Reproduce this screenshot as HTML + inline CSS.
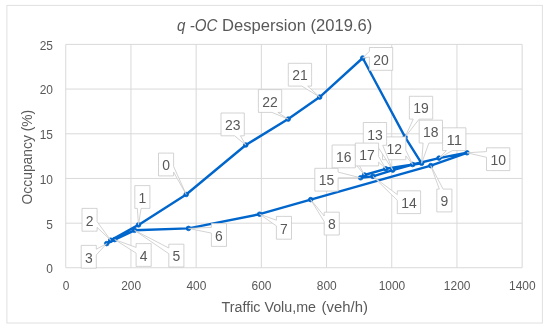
<!DOCTYPE html>
<html><head><meta charset="utf-8"><title>q -OC Despersion (2019.6)</title>
<style>
html,body{margin:0;padding:0;background:#fff;}
body{width:550px;height:330px;overflow:hidden;}
svg{display:block;}
text{font-family:"Liberation Sans",Arial,sans-serif;fill:#595959;}
</style></head><body>
<svg width="550" height="330" viewBox="0 0 550 330">
<rect x="0" y="0" width="550" height="330" fill="#fff"/>

<rect x="6.9" y="5.4" width="535.5" height="317.6" fill="none" stroke="#e0e0e0" stroke-width="1"/>
<path d="M65.75,44.40 H522.15 M65.75,89.05 H522.15 M65.75,133.80 H522.15 M65.75,178.45 H522.15 M65.75,223.20 H522.15 M65.75,267.75 H522.15 M65.75,44.40 V267.75 M130.95,44.40 V267.75 M196.15,44.40 V267.75 M261.35,44.40 V267.75 M326.55,44.40 V267.75 M391.75,44.40 V267.75 M456.95,44.40 V267.75 M522.15,44.40 V267.75" stroke="#d9d9d9" stroke-width="1" fill="none"/>
<text x="177.0" y="30.9" font-size="16.2" font-style="italic" textLength="40.4" lengthAdjust="spacingAndGlyphs">q -OC</text>
<text x="222.0" y="30.9" font-size="16.2" textLength="150.2" lengthAdjust="spacingAndGlyphs">Despersion (2019.6)</text>
<text x="53.0" y="49.80" text-anchor="end" font-size="12.7" textLength="13.30" lengthAdjust="spacingAndGlyphs">25</text>
<text x="53.0" y="94.45" text-anchor="end" font-size="12.7" textLength="13.30" lengthAdjust="spacingAndGlyphs">20</text>
<text x="53.0" y="139.20" text-anchor="end" font-size="12.7" textLength="13.30" lengthAdjust="spacingAndGlyphs">15</text>
<text x="53.0" y="183.85" text-anchor="end" font-size="12.7" textLength="13.30" lengthAdjust="spacingAndGlyphs">10</text>
<text x="53.0" y="228.60" text-anchor="end" font-size="12.7" textLength="6.65" lengthAdjust="spacingAndGlyphs">5</text>
<text x="53.0" y="273.15" text-anchor="end" font-size="12.7" textLength="6.65" lengthAdjust="spacingAndGlyphs">0</text>
<text x="65.95" y="290.2" text-anchor="middle" font-size="12.7" textLength="6.65" lengthAdjust="spacingAndGlyphs">0</text>
<text x="131.15" y="290.2" text-anchor="middle" font-size="12.7" textLength="19.95" lengthAdjust="spacingAndGlyphs">200</text>
<text x="196.35" y="290.2" text-anchor="middle" font-size="12.7" textLength="19.95" lengthAdjust="spacingAndGlyphs">400</text>
<text x="261.55" y="290.2" text-anchor="middle" font-size="12.7" textLength="19.95" lengthAdjust="spacingAndGlyphs">600</text>
<text x="326.75" y="290.2" text-anchor="middle" font-size="12.7" textLength="19.95" lengthAdjust="spacingAndGlyphs">800</text>
<text x="391.95" y="290.2" text-anchor="middle" font-size="12.7" textLength="26.60" lengthAdjust="spacingAndGlyphs">1000</text>
<text x="457.15" y="290.2" text-anchor="middle" font-size="12.7" textLength="26.60" lengthAdjust="spacingAndGlyphs">1200</text>
<text x="522.35" y="290.2" text-anchor="middle" font-size="12.7" textLength="26.60" lengthAdjust="spacingAndGlyphs">1400</text>
<text x="221.6" y="312.2" font-size="14" textLength="94.4" lengthAdjust="spacingAndGlyphs">Traffic Volu,me</text>
<text x="321.6" y="312.2" font-size="14" textLength="46.3" lengthAdjust="spacingAndGlyphs">(veh/h)</text>
<text transform="translate(32.3,157.1) rotate(-90)" x="0" y="0" text-anchor="middle" font-size="14" textLength="94.6" lengthAdjust="spacingAndGlyphs">Occupancy (%)</text>
<path d="M186.20,194.50 L138.50,224.90 L110.70,240.20 L106.70,243.60 L114.70,239.60 L134.50,230.30 L188.50,228.40 L259.60,214.20 L310.70,199.60 L430.80,165.60 L467.00,152.80 L439.00,158.10 L412.70,164.50 L392.80,170.10 L372.90,176.40 L360.60,177.80 L364.50,175.00 L385.80,168.80 L421.60,163.30 L405.10,137.10 L362.70,58.00 L319.70,97.10 L288.20,119.10 L245.80,145.00 L186.20,194.50" fill="none" stroke="#0066cc" stroke-width="2.4" stroke-linejoin="round" stroke-linecap="round"/>
<circle cx="186.20" cy="194.50" r="2.3" fill="#0066cc" stroke="#0066cc" stroke-width="0.8"/>
<circle cx="138.50" cy="224.90" r="2.3" fill="#0066cc" stroke="#0066cc" stroke-width="0.8"/>
<circle cx="110.70" cy="240.20" r="2.3" fill="#0066cc" stroke="#0066cc" stroke-width="0.8"/>
<circle cx="106.70" cy="243.60" r="2.3" fill="#0066cc" stroke="#0066cc" stroke-width="0.8"/>
<circle cx="114.70" cy="239.60" r="2.3" fill="#0066cc" stroke="#0066cc" stroke-width="0.8"/>
<circle cx="134.50" cy="230.30" r="2.3" fill="#0066cc" stroke="#0066cc" stroke-width="0.8"/>
<circle cx="188.50" cy="228.40" r="2.3" fill="#0066cc" stroke="#0066cc" stroke-width="0.8"/>
<circle cx="259.60" cy="214.20" r="2.3" fill="#0066cc" stroke="#0066cc" stroke-width="0.8"/>
<circle cx="310.70" cy="199.60" r="2.3" fill="#0066cc" stroke="#0066cc" stroke-width="0.8"/>
<circle cx="430.80" cy="165.60" r="2.3" fill="#0066cc" stroke="#0066cc" stroke-width="0.8"/>
<circle cx="467.00" cy="152.80" r="2.3" fill="#0066cc" stroke="#0066cc" stroke-width="0.8"/>
<circle cx="439.00" cy="158.10" r="2.3" fill="#0066cc" stroke="#0066cc" stroke-width="0.8"/>
<circle cx="412.70" cy="164.50" r="2.3" fill="#0066cc" stroke="#0066cc" stroke-width="0.8"/>
<circle cx="392.80" cy="170.10" r="2.3" fill="#0066cc" stroke="#0066cc" stroke-width="0.8"/>
<circle cx="372.90" cy="176.40" r="2.3" fill="#0066cc" stroke="#0066cc" stroke-width="0.8"/>
<circle cx="360.60" cy="177.80" r="2.3" fill="#0066cc" stroke="#0066cc" stroke-width="0.8"/>
<circle cx="364.50" cy="175.00" r="2.3" fill="#0066cc" stroke="#0066cc" stroke-width="0.8"/>
<circle cx="385.80" cy="168.80" r="2.3" fill="#0066cc" stroke="#0066cc" stroke-width="0.8"/>
<circle cx="421.60" cy="163.30" r="2.3" fill="#0066cc" stroke="#0066cc" stroke-width="0.8"/>
<circle cx="405.10" cy="137.10" r="2.3" fill="#0066cc" stroke="#0066cc" stroke-width="0.8"/>
<circle cx="362.70" cy="58.00" r="2.3" fill="#0066cc" stroke="#0066cc" stroke-width="0.8"/>
<circle cx="319.70" cy="97.10" r="2.3" fill="#0066cc" stroke="#0066cc" stroke-width="0.8"/>
<circle cx="288.20" cy="119.10" r="2.3" fill="#0066cc" stroke="#0066cc" stroke-width="0.8"/>
<circle cx="245.80" cy="145.00" r="2.3" fill="#0066cc" stroke="#0066cc" stroke-width="0.8"/>
<path d="M158.50,153.10 L167.31,153.10 L167.31,153.10 L171.08,153.10 L173.60,153.10 L173.60,166.40 L186.20,194.50 L173.60,172.10 L173.60,175.90 L171.08,175.90 L167.31,175.90 L167.31,175.90 L158.50,175.90 L158.50,172.10 L158.50,166.40 L158.50,166.40 Z" fill="#fff" stroke="#c8c8c8" stroke-width="0.8"/>
<text x="166.05" y="170.20" text-anchor="middle" font-size="14.6" textLength="7.75" lengthAdjust="spacingAndGlyphs">0</text>
<path d="M134.80,185.60 L137.32,185.60 L137.32,185.60 L141.09,185.60 L149.90,185.60 L149.90,198.90 L149.90,198.90 L149.90,204.60 L149.90,208.40 L141.09,208.40 L138.50,224.90 L137.32,208.40 L134.80,208.40 L134.80,204.60 L134.80,198.90 L134.80,198.90 Z" fill="#fff" stroke="#c8c8c8" stroke-width="0.8"/>
<text x="142.35" y="202.70" text-anchor="middle" font-size="14.6" textLength="7.75" lengthAdjust="spacingAndGlyphs">1</text>
<path d="M82.00,208.40 L90.81,208.40 L90.81,208.40 L94.58,208.40 L97.10,208.40 L97.10,221.70 L110.70,240.20 L97.10,227.40 L97.10,231.20 L94.58,231.20 L90.81,231.20 L90.81,231.20 L82.00,231.20 L82.00,227.40 L82.00,221.70 L82.00,221.70 Z" fill="#fff" stroke="#c8c8c8" stroke-width="0.8"/>
<text x="89.55" y="225.50" text-anchor="middle" font-size="14.6" textLength="7.75" lengthAdjust="spacingAndGlyphs">2</text>
<path d="M81.20,245.40 L90.01,245.40 L90.01,245.40 L93.78,245.40 L96.30,245.40 L96.30,249.20 L106.70,243.60 L96.30,254.90 L96.30,268.20 L93.78,268.20 L90.01,268.20 L90.01,268.20 L81.20,268.20 L81.20,254.90 L81.20,249.20 L81.20,249.20 Z" fill="#fff" stroke="#c8c8c8" stroke-width="0.8"/>
<text x="88.75" y="262.50" text-anchor="middle" font-size="14.6" textLength="7.75" lengthAdjust="spacingAndGlyphs">3</text>
<path d="M136.10,243.60 L138.62,243.60 L138.62,243.60 L142.39,243.60 L151.20,243.60 L151.20,247.40 L151.20,247.40 L151.20,253.10 L151.20,266.40 L142.39,266.40 L138.62,266.40 L138.62,266.40 L136.10,266.40 L136.10,253.10 L114.70,239.60 L136.10,247.40 Z" fill="#fff" stroke="#c8c8c8" stroke-width="0.8"/>
<text x="143.65" y="260.70" text-anchor="middle" font-size="14.6" textLength="7.75" lengthAdjust="spacingAndGlyphs">4</text>
<path d="M168.80,244.20 L171.32,244.20 L171.32,244.20 L175.09,244.20 L183.90,244.20 L183.90,248.00 L183.90,248.00 L183.90,253.70 L183.90,267.00 L175.09,267.00 L171.32,267.00 L171.32,267.00 L168.80,267.00 L168.80,253.70 L134.50,230.30 L168.80,248.00 Z" fill="#fff" stroke="#c8c8c8" stroke-width="0.8"/>
<text x="176.35" y="261.30" text-anchor="middle" font-size="14.6" textLength="7.75" lengthAdjust="spacingAndGlyphs">5</text>
<path d="M211.40,223.60 L213.92,223.60 L213.92,223.60 L217.69,223.60 L226.50,223.60 L226.50,227.40 L226.50,227.40 L226.50,233.10 L226.50,246.40 L217.69,246.40 L213.92,246.40 L213.92,246.40 L211.40,246.40 L211.40,233.10 L188.50,228.40 L211.40,227.40 Z" fill="#fff" stroke="#c8c8c8" stroke-width="0.8"/>
<text x="218.95" y="240.70" text-anchor="middle" font-size="14.6" textLength="7.75" lengthAdjust="spacingAndGlyphs">6</text>
<path d="M276.40,216.40 L278.92,216.40 L278.92,216.40 L282.69,216.40 L291.50,216.40 L291.50,220.20 L291.50,220.20 L291.50,225.90 L291.50,239.20 L282.69,239.20 L278.92,239.20 L278.92,239.20 L276.40,239.20 L276.40,225.90 L259.60,214.20 L276.40,220.20 Z" fill="#fff" stroke="#c8c8c8" stroke-width="0.8"/>
<text x="283.95" y="233.50" text-anchor="middle" font-size="14.6" textLength="7.75" lengthAdjust="spacingAndGlyphs">7</text>
<path d="M324.20,212.20 L326.72,212.20 L326.72,212.20 L330.49,212.20 L339.30,212.20 L339.30,216.00 L339.30,216.00 L339.30,221.70 L339.30,235.00 L330.49,235.00 L326.72,235.00 L326.72,235.00 L324.20,235.00 L324.20,221.70 L310.70,199.60 L324.20,216.00 Z" fill="#fff" stroke="#c8c8c8" stroke-width="0.8"/>
<text x="331.75" y="229.30" text-anchor="middle" font-size="14.6" textLength="7.75" lengthAdjust="spacingAndGlyphs">8</text>
<path d="M436.80,189.10 L439.32,189.10 L430.80,165.60 L443.09,189.10 L451.90,189.10 L451.90,192.90 L451.90,192.90 L451.90,198.60 L451.90,211.90 L443.09,211.90 L439.32,211.90 L439.32,211.90 L436.80,211.90 L436.80,198.60 L436.80,192.90 L436.80,192.90 Z" fill="#fff" stroke="#c8c8c8" stroke-width="0.8"/>
<text x="444.35" y="206.20" text-anchor="middle" font-size="14.6" textLength="7.75" lengthAdjust="spacingAndGlyphs">9</text>
<path d="M486.50,147.80 L490.38,147.80 L490.38,147.80 L496.21,147.80 L509.80,147.80 L509.80,151.60 L509.80,151.60 L509.80,157.30 L509.80,170.60 L496.21,170.60 L490.38,170.60 L490.38,170.60 L486.50,170.60 L486.50,157.30 L467.00,152.80 L486.50,151.60 Z" fill="#fff" stroke="#c8c8c8" stroke-width="0.8"/>
<text x="498.15" y="164.90" text-anchor="middle" font-size="14.6" textLength="15.50" lengthAdjust="spacingAndGlyphs">10</text>
<path d="M442.60,127.80 L446.48,127.80 L446.48,127.80 L452.31,127.80 L465.90,127.80 L465.90,141.10 L465.90,141.10 L465.90,146.80 L465.90,150.60 L452.31,150.60 L439.00,158.10 L446.48,150.60 L442.60,150.60 L442.60,146.80 L442.60,141.10 L442.60,141.10 Z" fill="#fff" stroke="#c8c8c8" stroke-width="0.8"/>
<text x="454.25" y="144.90" text-anchor="middle" font-size="14.6" textLength="15.50" lengthAdjust="spacingAndGlyphs">11</text>
<path d="M382.50,136.90 L396.09,136.90 L396.09,136.90 L401.92,136.90 L405.80,136.90 L405.80,150.20 L412.70,164.50 L405.80,155.90 L405.80,159.70 L401.92,159.70 L396.09,159.70 L396.09,159.70 L382.50,159.70 L382.50,155.90 L382.50,150.20 L382.50,150.20 Z" fill="#fff" stroke="#c8c8c8" stroke-width="0.8"/>
<text x="394.15" y="154.00" text-anchor="middle" font-size="14.6" textLength="15.50" lengthAdjust="spacingAndGlyphs">12</text>
<path d="M363.30,122.50 L376.89,122.50 L376.89,122.50 L382.72,122.50 L386.60,122.50 L386.60,135.80 L386.60,135.80 L386.60,141.50 L386.60,145.30 L382.72,145.30 L392.80,170.10 L376.89,145.30 L363.30,145.30 L363.30,141.50 L363.30,135.80 L363.30,135.80 Z" fill="#fff" stroke="#c8c8c8" stroke-width="0.8"/>
<text x="374.95" y="139.60" text-anchor="middle" font-size="14.6" textLength="15.50" lengthAdjust="spacingAndGlyphs">13</text>
<path d="M397.30,190.80 L401.18,190.80 L401.18,190.80 L407.01,190.80 L420.60,190.80 L420.60,194.60 L420.60,194.60 L420.60,200.30 L420.60,213.60 L407.01,213.60 L401.18,213.60 L401.18,213.60 L397.30,213.60 L397.30,200.30 L372.90,176.40 L397.30,194.60 Z" fill="#fff" stroke="#c8c8c8" stroke-width="0.8"/>
<text x="408.95" y="207.90" text-anchor="middle" font-size="14.6" textLength="15.50" lengthAdjust="spacingAndGlyphs">14</text>
<path d="M314.80,168.30 L328.39,168.30 L328.39,168.30 L334.22,168.30 L338.10,168.30 L338.10,172.10 L360.60,177.80 L338.10,177.80 L338.10,191.10 L334.22,191.10 L328.39,191.10 L328.39,191.10 L314.80,191.10 L314.80,177.80 L314.80,172.10 L314.80,172.10 Z" fill="#fff" stroke="#c8c8c8" stroke-width="0.8"/>
<text x="326.45" y="185.40" text-anchor="middle" font-size="14.6" textLength="15.50" lengthAdjust="spacingAndGlyphs">15</text>
<path d="M332.10,145.00 L345.69,145.00 L345.69,145.00 L351.52,145.00 L355.40,145.00 L355.40,158.30 L364.50,175.00 L355.40,164.00 L355.40,167.80 L351.52,167.80 L345.69,167.80 L345.69,167.80 L332.10,167.80 L332.10,164.00 L332.10,158.30 L332.10,158.30 Z" fill="#fff" stroke="#c8c8c8" stroke-width="0.8"/>
<text x="343.75" y="162.10" text-anchor="middle" font-size="14.6" textLength="15.50" lengthAdjust="spacingAndGlyphs">16</text>
<path d="M355.30,143.10 L368.89,143.10 L368.89,143.10 L374.72,143.10 L378.60,143.10 L378.60,156.40 L385.80,168.80 L378.60,162.10 L378.60,165.90 L374.72,165.90 L368.89,165.90 L368.89,165.90 L355.30,165.90 L355.30,162.10 L355.30,156.40 L355.30,156.40 Z" fill="#fff" stroke="#c8c8c8" stroke-width="0.8"/>
<text x="366.95" y="160.20" text-anchor="middle" font-size="14.6" textLength="15.50" lengthAdjust="spacingAndGlyphs">17</text>
<path d="M419.20,120.20 L423.08,120.20 L423.08,120.20 L428.91,120.20 L442.50,120.20 L442.50,133.50 L442.50,133.50 L442.50,139.20 L442.50,143.00 L428.91,143.00 L421.60,163.30 L423.08,143.00 L419.20,143.00 L419.20,139.20 L419.20,133.50 L419.20,133.50 Z" fill="#fff" stroke="#c8c8c8" stroke-width="0.8"/>
<text x="430.85" y="137.30" text-anchor="middle" font-size="14.6" textLength="15.50" lengthAdjust="spacingAndGlyphs">18</text>
<path d="M409.40,96.30 L413.28,96.30 L413.28,96.30 L419.11,96.30 L432.70,96.30 L432.70,109.60 L432.70,109.60 L432.70,115.30 L432.70,119.10 L419.11,119.10 L405.10,137.10 L413.28,119.10 L409.40,119.10 L409.40,115.30 L409.40,109.60 L409.40,109.60 Z" fill="#fff" stroke="#c8c8c8" stroke-width="0.8"/>
<text x="421.05" y="113.40" text-anchor="middle" font-size="14.6" textLength="15.50" lengthAdjust="spacingAndGlyphs">19</text>
<path d="M369.40,47.50 L373.28,47.50 L373.28,47.50 L379.11,47.50 L392.70,47.50 L392.70,51.30 L392.70,51.30 L392.70,57.00 L392.70,70.30 L379.11,70.30 L373.28,70.30 L373.28,70.30 L369.40,70.30 L369.40,57.00 L362.70,58.00 L369.40,51.30 Z" fill="#fff" stroke="#c8c8c8" stroke-width="0.8"/>
<text x="381.05" y="64.60" text-anchor="middle" font-size="14.6" textLength="15.50" lengthAdjust="spacingAndGlyphs">20</text>
<path d="M288.30,63.30 L301.89,63.30 L301.89,63.30 L307.72,63.30 L311.60,63.30 L311.60,76.60 L311.60,76.60 L311.60,82.30 L311.60,86.10 L307.72,86.10 L319.70,97.10 L301.89,86.10 L288.30,86.10 L288.30,82.30 L288.30,76.60 L288.30,76.60 Z" fill="#fff" stroke="#c8c8c8" stroke-width="0.8"/>
<text x="299.95" y="80.40" text-anchor="middle" font-size="14.6" textLength="15.50" lengthAdjust="spacingAndGlyphs">21</text>
<path d="M258.40,89.60 L271.99,89.60 L271.99,89.60 L277.82,89.60 L281.70,89.60 L281.70,102.90 L281.70,102.90 L281.70,108.60 L281.70,112.40 L277.82,112.40 L288.20,119.10 L271.99,112.40 L258.40,112.40 L258.40,108.60 L258.40,102.90 L258.40,102.90 Z" fill="#fff" stroke="#c8c8c8" stroke-width="0.8"/>
<text x="270.05" y="106.70" text-anchor="middle" font-size="14.6" textLength="15.50" lengthAdjust="spacingAndGlyphs">22</text>
<path d="M221.00,113.00 L234.59,113.00 L234.59,113.00 L240.42,113.00 L244.30,113.00 L244.30,126.30 L244.30,126.30 L244.30,132.00 L244.30,135.80 L240.42,135.80 L245.80,145.00 L234.59,135.80 L221.00,135.80 L221.00,132.00 L221.00,126.30 L221.00,126.30 Z" fill="#fff" stroke="#c8c8c8" stroke-width="0.8"/>
<text x="232.65" y="130.10" text-anchor="middle" font-size="14.6" textLength="15.50" lengthAdjust="spacingAndGlyphs">23</text>
</svg>
</body></html>
